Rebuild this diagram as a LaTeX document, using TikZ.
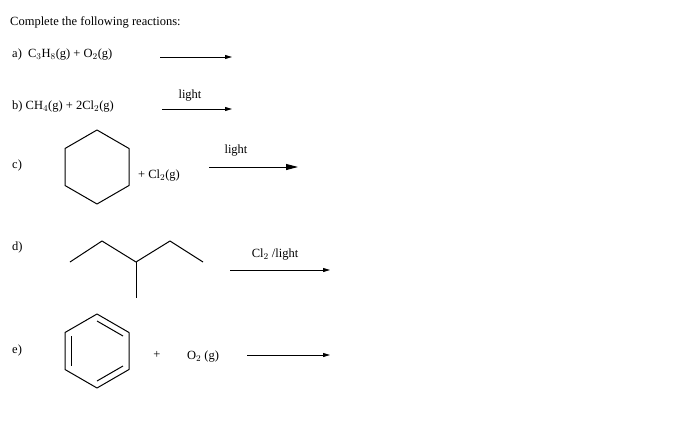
\documentclass[tikz,border=0pt]{standalone}
\usepackage{fontspec}
\setmainfont{Liberation Serif}
\usetikzlibrary{arrows.meta}
\begin{document}
\begin{tikzpicture}[x=1pt,y=-1pt,
  txt/.style={anchor=west,inner sep=0pt,font=\fontsize{12.5}{14}\selectfont},
  rxn/.style={line width=0.9pt,-{Triangle[length=7pt,width=4pt]}},
  rxnb/.style={line width=1pt,-{Triangle[length=12pt,width=6pt]}},
  bond/.style={line width=1pt,line join=round}]
\useasboundingbox (0,0) rectangle (700,428);
\node[txt] (title) at (10,22) {Complete the following reactions:};
% a
\node[txt] (a) at (12,55) {a)\ \ C$_3$H$_8$(g) + O$_2$(g)};
\coordinate (a1) at (160,57); \coordinate (a2) at (232,57);
\draw[rxn] (a1) -- (a2);
% b
\node[txt] (b) at (12,107) {b) CH$_4$(g) + 2Cl$_2$(g)};
\node[txt,anchor=center] (bl) at (190,96) {light};
\coordinate (b1) at (162,109); \coordinate (b2) at (232,109);
\draw[rxn] (b1) -- (b2);
% c
\node[txt] (c) at (12,165) {c)};
\draw[bond] (97,130) -- (129,148.5) -- (129,185.5) -- (97,204) -- (65,185.5) -- (65,148.5) -- cycle;
\node[txt] (cp) at (138,176) {+ Cl$_2$(g)};
\node[txt,anchor=center] (cl) at (236,151) {light};
\coordinate (c1) at (209,167); \coordinate (c2) at (298,167);
\draw[rxnb] (c1) -- (c2);
% d
\node[txt] (d) at (12,247) {d)};
\draw[bond] (70,262) -- (102,241) -- (136,262) -- (170,241) -- (203,262);
\draw[bond] (136,262) -- (136,298);
\node[txt,anchor=center] (dl) at (275,255) {Cl$_2$ /light};
\coordinate (d1) at (230,270); \coordinate (d2) at (330,270);
\draw[rxn] (d1) -- (d2);
% e
\node[txt] (e) at (12,350) {e)};
\draw[bond] (97,314) -- (129,332.5) -- (129,369.5) -- (97,388) -- (65,369.5) -- (65,332.5) -- cycle;
\draw[bond] (97,321) -- (123,336);
\draw[bond] (71,336) -- (71,366);
\draw[bond] (97,381) -- (123,366);
\node[txt,anchor=center] (ep) at (157,355) {+};
\node[txt] (eo) at (187,357) {O$_2$ (g)};
\coordinate (e1) at (247,355); \coordinate (e2) at (330,355);
\draw[rxn] (e1) -- (e2);
\end{tikzpicture}
\end{document}
